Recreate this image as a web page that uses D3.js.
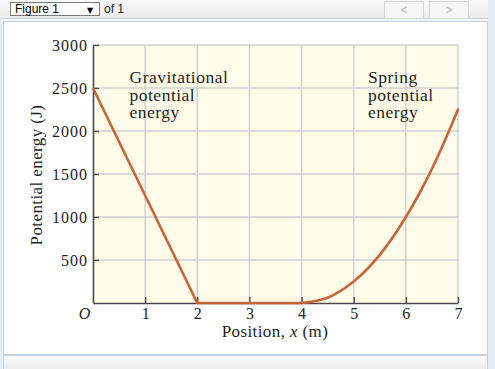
<!DOCTYPE html>
<html>
<head>
<meta charset="utf-8">
<script src="https://cdn.jsdelivr.net/npm/d3@7"></script>
<style>
  body { margin: 0; background: #fff; }
  svg { display: block; }
</style>
</head>
<body>
<div id="chart"></div>
<script>
// values
const xTicks = [0, 1, 2, 3, 4, 5, 6, 7];
const yTicks = [500, 1000, 1500, 2000, 2500, 3000];
const gravX = [0, 2, 4];
const gravU = [2500, 0, 0];
const springX = [4, 4.5, 5, 5.5, 6, 6.5, 7];
const springU = [0, 62, 250, 560, 1000, 1560, 2250];

const W = 495, H = 369;
const margin = {top: 45, right: 37, bottom: 66, left: 93},
  width = W - margin.left - margin.right,
  height = H - margin.top - margin.bottom;

const root = d3.select("#chart")
  .append("svg")
    .attr("width", W)
    .attr("height", H);

// page frame (viewer chrome)
const bar = root.append("defs").append("linearGradient")
  .attr("id", "bar").attr("x1", 0).attr("x2", 0).attr("y1", 0).attr("y2", 1);
bar.append("stop").attr("offset", 0).attr("stop-color", "#fafafa");
bar.append("stop").attr("offset", 1).attr("stop-color", "#ececec");

root.append("rect").attr("x", 0).attr("y", 0).attr("width", W).attr("height", H).attr("fill", "#e4ebf3");
root.append("rect").attr("x", 0).attr("y", 0).attr("width", 488).attr("height", 19).attr("fill", "url(#bar)");
root.append("line").attr("x1", 0).attr("x2", 488).attr("y1", 18.5).attr("y2", 18.5).attr("stroke", "#c9d4e0");
root.append("rect").attr("x", 0).attr("y", 19).attr("width", 488).attr("height", 2).attr("fill", "#f4f6f9");
root.append("rect").attr("x", 3.5).attr("y", 21.5).attr("width", 484).attr("height", 333)
  .attr("fill", "#fff").attr("stroke", "#c5d0dc");
root.append("rect").attr("x", 3.5).attr("y", 355.5).attr("width", 484).attr("height", 14)
  .attr("fill", "url(#bar)").attr("stroke", "#c5d0dc");

// figure select box
root.append("rect").attr("x", 10.5).attr("y", 2.5).attr("width", 89).attr("height", 13)
  .attr("fill", "#fff").attr("stroke", "#7a7a7a");
root.append("text").attr("x", 15).attr("y", 13).text("Figure 1")
  .style("font", "12px 'Liberation Sans', Arial, sans-serif").attr("fill", "#000");
root.append("text").attr("x", 87).attr("y", 12.5).text("▼")
  .style("font", "8px 'DejaVu Sans', sans-serif").attr("fill", "#000");
root.append("text").attr("x", 104).attr("y", 13).text("of 1")
  .style("font", "12px 'Liberation Sans', Arial, sans-serif").attr("fill", "#222");

// prev / next buttons
[[384, "<"], [429, ">"]].forEach(([bx, s]) => {
  root.append("rect").attr("x", bx + 0.5).attr("y", 1.5).attr("width", 39).attr("height", 17)
    .attr("fill", "#f6f6f6").attr("stroke", "#d6d6d6");
  root.append("text").attr("x", bx + 20).attr("y", 14).attr("text-anchor", "middle").text(s)
    .style("font", "12px 'Liberation Sans', Arial, sans-serif").attr("fill", "#b5b5b5");
});

const svg = root.append("g")
  .attr("transform", `translate(${margin.left},${margin.top})`);

const x = d3.scaleLinear().domain([0, 7]).range([0, width]);
const y = d3.scaleLinear().domain([0, 3000]).range([height, 0]);

// plot background
svg.append("rect").attr("width", width).attr("height", height).attr("fill", "#fffde9");

// grid
svg.append("g").selectAll("line")
  .data(xTicks.slice(1))
  .join("line")
    .attr("x1", d => x(d)).attr("x2", d => x(d))
    .attr("y1", 0).attr("y2", height)
    .attr("stroke", "#cfcfcf").attr("stroke-width", 1.4);
svg.append("g").selectAll("line")
  .data(yTicks)
  .join("line")
    .attr("x1", 0).attr("x2", width)
    .attr("y1", d => y(d)).attr("y2", d => y(d))
    .attr("stroke", "#cfcfcf").attr("stroke-width", 1.4);

const tickFont = "16px 'Liberation Serif', 'Times New Roman', serif";

// axes
const yAxis = svg.append("g")
  .call(d3.axisLeft(y).tickValues(yTicks).tickFormat(d3.format("d"))
    .tickSizeInner(-6).tickSizeOuter(0).tickPadding(6));
const xAxis = svg.append("g")
  .attr("transform", `translate(0,${height})`)
  .call(d3.axisBottom(x).tickValues(xTicks).tickSizeInner(-6).tickSizeOuter(0).tickPadding(6)
    .tickFormat(d => d === 0 ? "O" : d));
[yAxis, xAxis].forEach(a => {
  a.select(".domain").attr("stroke", "#4a4a4a").attr("stroke-width", 1.6);
  a.selectAll(".tick line").attr("stroke", "#4a4a4a").attr("stroke-width", 1.4);
  a.selectAll("text").style("font", tickFont).attr("fill", "#1e1e1e");
});
yAxis.selectAll("text").attr("x", -5).attr("dy", "0.36em").style("letter-spacing", "1px");
xAxis.selectAll("text").attr("y", 4).attr("dy", "0.75em");
xAxis.selectAll(".tick").filter(d => d === 0).select("text")
  .attr("x", -9).style("font-style", "italic");
xAxis.selectAll(".tick").filter(d => d === 0).select("line").remove();

// curves
const line = d3.line().x(d => x(d[0])).y(d => y(d[1]));
svg.append("path")
  .datum(gravX.map((d, i) => [d, gravU[i]]))
  .attr("d", line)
  .attr("fill", "none").attr("stroke", "#c8643c").attr("stroke-width", 2.6)
  .attr("stroke-linejoin", "round");
svg.append("path")
  .datum(springX.map((d, i) => [d, springU[i]]))
  .attr("d", line.curve(d3.curveCatmullRom))
  .attr("fill", "none").attr("stroke", "#c8643c").attr("stroke-width", 2.6)
  .attr("stroke-linecap", "round");

// curve labels, one text per line
const labelFont = "17.5px 'Liberation Serif', 'Times New Roman', serif";
function label(px, lines) {
  lines.forEach((s, i) => svg.append("text")
    .attr("x", px).attr("y", 38.3 + i * 17.5)
    .style("font", labelFont).attr("fill", "#1e1e1e")
    .style("letter-spacing", "0.5px")
    .text(s));
}
label(36.5, ["Gravitational", "potential", "energy"]);
label(275, ["Spring", "potential", "energy"]);

// axis titles
const titleFont = "17px 'Liberation Serif', 'Times New Roman', serif";
svg.append("text")
  .attr("x", 182).attr("y", height + 34)
  .attr("text-anchor", "middle")
  .style("font", titleFont).attr("fill", "#1e1e1e").style("letter-spacing", "0.4px")
  .call(t => {
    t.append("tspan").text("Position, ");
    t.append("tspan").style("font-style", "italic").text("x");
    t.append("tspan").text(" (m)");
  });
svg.append("text")
  .attr("transform", `translate(-51,${175 - margin.top}) rotate(-90)`)
  .attr("text-anchor", "middle")
  .style("font", titleFont).attr("fill", "#1e1e1e").style("letter-spacing", "0.4px")
  .text("Potential energy (J)");
</script>
</body>
</html>
